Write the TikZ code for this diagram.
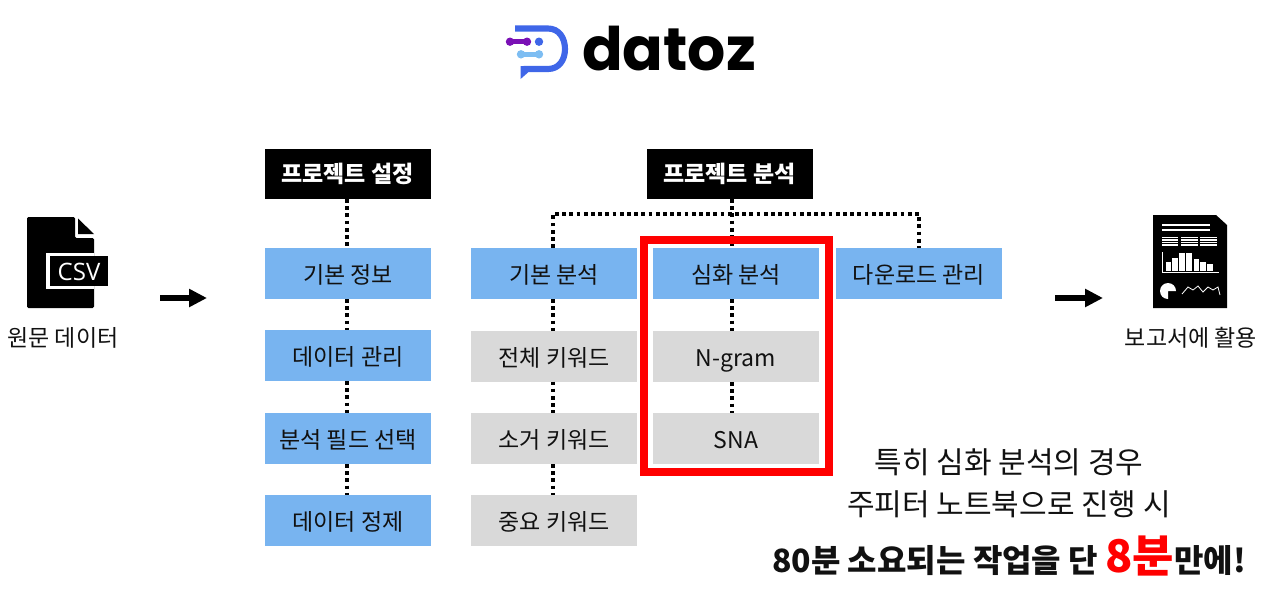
\documentclass[tikz,border=0pt]{standalone}
\usepackage{fontspec}
\setmainfont{Noto Sans CJK KR}
\newfontfamily\logofont{Poppins}
\newfontfamily\csvfont{Open Sans}
\usetikzlibrary{arrows.meta,calc}
\newcommand\fz[1]{\fontsize{\fpeval{#1*0.75}pt}{\fpeval{#1*0.9}pt}\selectfont}
\definecolor{boxblue}{HTML}{78B4F0}
\definecolor{boxgray}{HTML}{D9D9D9}
\definecolor{ink}{HTML}{111111}
\definecolor{logoblue}{HTML}{3F66E8}
\definecolor{logosky}{HTML}{7DBDF2}
\definecolor{logopurple}{HTML}{7A10B5}
\tikzset{
 x=0.75pt,y=-0.75pt,
 card/.style={minimum width=124.5pt,minimum height=38.25pt,inner sep=0pt,outer sep=0pt,text=ink,font={\fz{23}},text height=16pt,text depth=1pt},
 bluecard/.style={card,fill=boxblue},
 graycard/.style={card,fill=boxgray},
 headcard/.style={minimum width=124.5pt,minimum height=37.5pt,inner sep=0pt,outer sep=0pt,fill=black,text=white,font={\fz{23}\bfseries}},
 dots/.style={line width=2.8pt,black,dash pattern=on 2.8pt off 2.6pt},
 flow/.style={line width=4.5pt,black,-{Triangle[length=13.5pt,width=13pt]}},
 captext/.style={inner sep=0pt,text=ink,font={\fz{23}}},
 note/.style={inner sep=0pt,text=ink,font={\fz{30}}},
 paper/.style={fill=black,draw=none},
}
\begin{document}
\begin{tikzpicture}
\useasboundingbox (0,0) rectangle (1275,597);
% logo
\draw[logoblue,line width=4.6pt,line join=round] (515,28.5) -- (548,28.5) .. controls (559,28.5) and (565,38) .. (565,49) .. controls (565,60) and (559,69) .. (548,69) -- (523.5,69);
\fill[logoblue] (520.6,79) -- (520.6,66) -- (528,66) -- (528,72.5) -- cycle;
\draw[logopurple,line width=4pt] (509,41.7) -- (527,41.7);
\fill[logopurple] (510,41.7) circle[radius=4.2] (527,41.7) circle[radius=4.2];
\fill[logoblue] (539,41.7) circle[radius=4.2];
\draw[logosky,line width=4pt] (520,54.3) -- (539,54.3);
\fill[logosky] (521,54.3) circle[radius=4.2] (539,54.3) circle[radius=4.2];
\node[inner sep=0pt,anchor=center,font={\logofont\fz{60}\bfseries}] (logo) at (669,49) {datoz};
% csv icon
\fill[paper,rounded corners=1pt] (27,217) -- (75,217) -- (75,238) -- (94,238) -- (94,308) -- (27,308) -- cycle;
\fill[black] (78,218.5) -- (94,234) -- (78,234) -- cycle;
\fill[white] (46,253) rectangle (94,289);
\fill[black] (50,256) rectangle (108,286);
\node[inner sep=0pt,text=white,font={\csvfont\fz{24}}] (csv) at (79,272) {CSV};
\node[captext] (src) at (63,338) {원문 데이터};
% report icon
\fill[paper] (1153,215) -- (1216,215) -- (1227,225) -- (1227,308) -- (1153,308) -- cycle;
\foreach \yy in {224.5,229.5} \draw[white,line width=1.5pt] (1162,\yy) -- (1210,\yy);
\foreach \xa/\xb in {1162/1178,1181/1198,1200/1217} \foreach \yy in {237.5,240,242.5,245} \draw[white,line width=.9pt] (\xa,\yy) -- (\xb,\yy);
\draw[white,line width=.7pt] (1162.5,252) -- (1162.5,272) -- (1219,272);
\foreach \xa/\xb/\yy in {1166/1171/262,1172/1178/258,1179/1185/253,1186/1192/253,1194/1199/259,1200/1206/262,1207/1213/264} \fill[white] (\xa,\yy) rectangle (\xb,271);
\fill[white] (1168,291) -- (1176,291) arc[start angle=0,end angle=-270,radius=8] -- cycle;
\draw[white,line width=.6pt] (1182,294) -- (1188,287) -- (1193,290) -- (1198,286) -- (1203,292) -- (1208,287) -- (1213,290) -- (1218,287) -- (1220,295);
\node[captext] (out) at (1191,338) {보고서에 활용};
% headers
\node[headcard] (h1) at (347.5,174) {프로젝트 설정};
\node[headcard] (h2) at (729.5,174) {프로젝트 분석};
% column 1
\node[bluecard] (a1) at (348,273.5) {기본 정보};
\node[bluecard] (a2) at (348,355.5) {데이터 관리};
\node[bluecard] (a3) at (348,438.5) {분석 필드 선택};
\node[bluecard] (a4) at (348,520.5) {데이터 정제};
% column 2
\node[bluecard] (b1) at (554,273.5) {기본 분석};
\node[graycard] (b2) at (554,356) {전체 키워드};
\node[graycard] (b3) at (554,438.5) {소거 키워드};
\node[graycard] (b4) at (554,520.5) {중요 키워드};
% column 3
\node[bluecard] (c1) at (736,273.5) {심화 분석};
\node[graycard] (c2) at (736,356.5) {N-gram};
\node[graycard] (c3) at (736,438.5) {SNA};
% column 4
\node[bluecard] (d1) at (919,273.5) {다운로드 관리};
% routing coordinates
\coordinate (t1) at (347,214);
\coordinate (t2) at (553,214);
\coordinate (t3) at (732,214);
\coordinate (t4) at (919,214);
% connectors
\draw[dots] (t1 |- h1.south) -- (t1 |- a1.north);
\draw[dots] (t1 |- a1.south) -- (t1 |- a2.north);
\draw[dots] (t1 |- a2.south) -- (t1 |- a3.north);
\draw[dots] (t1 |- a3.south) -- (t1 |- a4.north);
\draw[dots] (t3 |- h2.south) -- (t3 |- c1.north);
\draw[dots] (t2 |- b1.north) -- (t2) -- (t4) -- (t4 |- d1.north);
\draw[dots] (t2 |- b1.south) -- (t2 |- b2.north);
\draw[dots] (t2 |- b2.south) -- (t2 |- b3.north);
\draw[dots] (t2 |- b3.south) -- (t2 |- b4.north);
\draw[dots] (t3 |- c1.south) -- (t3 |- c2.north);
\draw[dots] (t3 |- c2.south) -- (t3 |- c3.north);
% red frame
\node[draw=red,line width=6pt,minimum width=138.75pt,minimum height=174pt,inner sep=0pt,outer sep=0pt] (frame) at (736.5,356) {};
% arrows
\coordinate (fa) at (160,298);
\coordinate (fb) at (207,298);
\coordinate (ga) at (1055,298);
\coordinate (gb) at (1103,298);
\draw[flow] (fa) -- (fb);
\draw[flow] (ga) -- (gb);
% note
\node[note] (n1) at (1009,462) {특히 심화 분석의 경우};
\node[note] (n2) at (1009,504) {주피터 노트북으로 진행 시};
\node[inner sep=0pt,text=ink,font={\fz{32}\bfseries}] (n3) at (1009,556) {80분 소요되는 작업을 단 {\fz{45}\color{red}8분}만에!};
\end{tikzpicture}
\end{document}
